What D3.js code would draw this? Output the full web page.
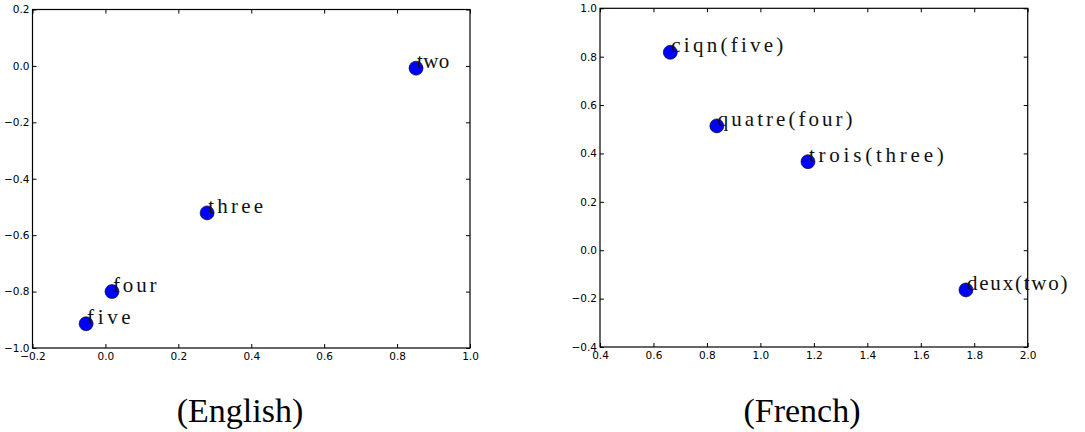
<!DOCTYPE html>
<html lang="en">
<head>
  <meta charset="UTF-8">
  <title>English / French word vectors</title>
  <style>
    body { margin: 0; background: #fff; }
    .tick text { font-family: "DejaVu Sans", sans-serif; font-size: 10.5px; fill: #000; }
    .tick line { stroke: #000; }
    .domain { display: none; }
    .word { font-family: "Liberation Serif", serif; font-size: 21px; fill: #111; }
    .caption { font-family: "Liberation Serif", serif; font-size: 34px; fill: #000; }
  </style>
</head>
<body>
  <svg id="chart"></svg>
  <script src="https://cdn.jsdelivr.net/npm/d3@7"></script>
  <script>
    // english panel
    var enWords = ["two", "three", "four", "five"];
    var enX = [0.852, 0.279, 0.018, -0.053];
    var enY = [-0.008, -0.521, -0.800, -0.914];
    var enXTicks = [-0.2, 0.0, 0.2, 0.4, 0.6, 0.8, 1.0];
    var enYTicks = [-1.0, -0.8, -0.6, -0.4, -0.2, 0.0, 0.2];

    // french panel
    var frWords = ["ciqn(five)", "quatre(four)", "trois(three)", "deux(two)"];
    var frX = [0.663, 0.837, 1.178, 1.769];
    var frY = [0.818, 0.514, 0.366, -0.164];
    var frXTicks = [0.4, 0.6, 0.8, 1.0, 1.2, 1.4, 1.6, 1.8, 2.0];
    var frYTicks = [-0.4, -0.2, 0.0, 0.2, 0.4, 0.6, 0.8, 1.0];

    var svgWidth = 1085, svgHeight = 432;
    var svg = d3.select("#chart")
      .attr("width", svgWidth)
      .attr("height", svgHeight);

    var fmt = d3.format(".1f");

    function panel(p) {
      var x = d3.scaleLinear().domain(d3.extent(p.xTicks)).range([p.left, p.right]);
      var y = d3.scaleLinear().domain(d3.extent(p.yTicks)).range([p.bottom, p.top]);
      var g = svg.append("g");

      // ticks point inward on all four sides
      g.append("g").attr("transform", "translate(0," + p.bottom + ")")
        .call(d3.axisBottom(x).tickValues(p.xTicks).tickFormat(fmt).tickSize(-4).tickPadding(5));
      g.append("g").attr("transform", "translate(0," + p.top + ")")
        .call(d3.axisTop(x).tickValues(p.xTicks).tickFormat("").tickSize(-4));
      g.append("g").attr("transform", "translate(" + p.left + ",0)")
        .call(d3.axisLeft(y).tickValues(p.yTicks).tickFormat(fmt).tickSize(-4).tickPadding(3));
      g.append("g").attr("transform", "translate(" + p.right + ",0)")
        .call(d3.axisRight(y).tickValues(p.yTicks).tickFormat("").tickSize(-4));

      g.append("rect")
        .attr("x", p.left).attr("y", p.top)
        .attr("width", p.right - p.left).attr("height", p.bottom - p.top)
        .attr("fill", "none").attr("stroke", "#000").attr("stroke-width", 1.2);

      var pts = p.words.map(function (w, i) { return { w: w, x: p.xs[i], y: p.ys[i] }; });

      g.selectAll("circle").data(pts).enter().append("circle")
        .attr("cx", function (d) { return x(d.x); })
        .attr("cy", function (d) { return y(d.y); })
        .attr("r", 7)
        .attr("fill", "#0000ff")
        .attr("stroke", "#000")
        .attr("stroke-width", 0.6);

      g.selectAll("text.word").data(pts).enter().append("text")
        .attr("class", "word")
        .attr("x", function (d) { return x(d.x) + 1; })
        .attr("y", function (d) { return y(d.y); })
        .attr("textLength", function (d) { return d.w.length * 11.4 - 2; })
        .attr("lengthAdjust", "spacing")
        .text(function (d) { return d.w; });

      svg.append("text")
        .attr("class", "caption")
        .attr("x", p.capX)
        .attr("y", 422)
        .attr("text-anchor", "middle")
        .text(p.caption);
    }

    panel({ words: enWords, xs: enX, ys: enY, xTicks: enXTicks, yTicks: enYTicks,
      left: 32.5, right: 470, top: 9.5, bottom: 348, caption: "(English)", capX: 240 });
    panel({ words: frWords, xs: frX, ys: frY, xTicks: frXTicks, yTicks: frYTicks,
      left: 600, right: 1027.7, top: 8.3, bottom: 347, caption: "(French)", capX: 802 });
  </script>
</body>
</html>
